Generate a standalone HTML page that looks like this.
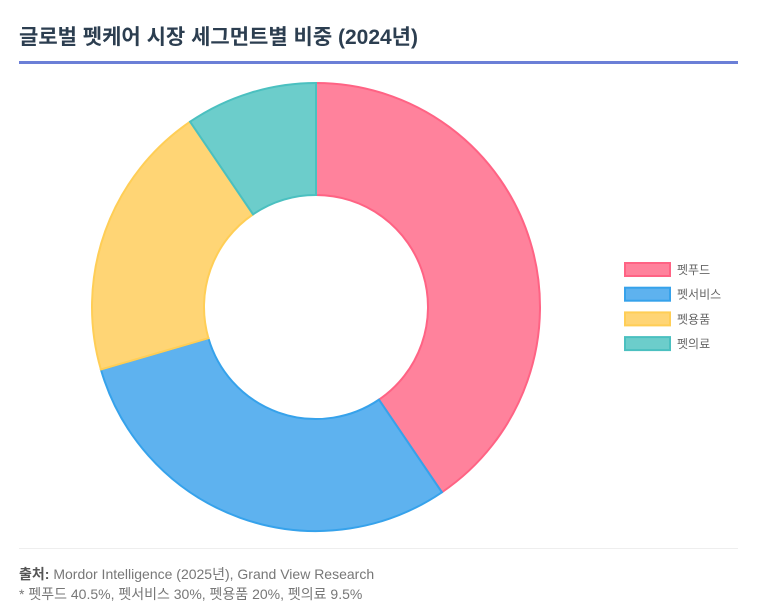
<!DOCTYPE html>
<html><head><meta charset="utf-8"><style>
body{margin:0;width:758px;height:608px;background:#fff;font-family:"Liberation Sans","Noto Sans CJK KR",sans-serif;position:relative;overflow:hidden}
#title{position:absolute;left:19px;top:21px;font-size:21px;font-weight:bold;color:#2c3e50;margin:0;white-space:nowrap}
#rule{position:absolute;left:19px;top:61px;width:719px;height:3px;background:#6b7fd7}
#foot-rule{position:absolute;left:19px;top:548px;width:719px;height:1px;background:#eee}
.ft{position:absolute;left:19px;font-size:14px;color:#777;white-space:nowrap}
svg{position:absolute;left:0;top:0}
</style></head><body>
<h1 id="title">글로벌 펫케어 시장 세그먼트별 비중 (2024년)</h1>
<div id="rule"></div>
<svg id="chart" width="758" height="608"></svg>
<div id="foot-rule"></div>
<div class="ft" style="top:564px"><b style="color:#555">출처:</b> Mordor Intelligence (2025년), Grand View Research</div>
<div class="ft" style="top:584px">* 펫푸드 40.5%, 펫서비스 30%, 펫용품 20%, 펫의료 9.5%</div>
<script>
const labels=["펫푸드","펫서비스","펫용품","펫의료"];
const values=[40.5,30,20,9.5];
const fills=["#ff829c","#5eb2ef","#ffd575","#6ccdcb"];
const strokes=["#ff6384","#36a2eb","#ffce56","#4bc0c0"];
const svg=document.getElementById('chart');
const NS="http://www.w3.org/2000/svg";
const cx=316,cy=307,R=224,r=112;
const total=values.reduce((a,b)=>a+b,0);
function pt(rad,a){return [cx+rad*Math.sin(a),cy-rad*Math.cos(a)];}
let a0=0;
values.forEach((v,i)=>{
  const a1=a0+v/total*2*Math.PI;
  const large=(a1-a0)>Math.PI?1:0;
  const p1=pt(R,a0),p2=pt(R,a1),p3=pt(r,a1),p4=pt(r,a0);
  const p=document.createElementNS(NS,'path');
  p.setAttribute('d',`M${p1[0]},${p1[1]} A${R},${R} 0 ${large} 1 ${p2[0]},${p2[1]} L${p3[0]},${p3[1]} A${r},${r} 0 ${large} 0 ${p4[0]},${p4[1]} Z`);
  p.setAttribute('fill',fills[i]);
  p.setAttribute('stroke',strokes[i]);
  p.setAttribute('stroke-width','2');
  
  
  svg.appendChild(p);
  a0=a1;
});
labels.forEach((l,i)=>{
  const y=263+i*24.7;
  const g=document.createElementNS(NS,'g');
  
  
  const rc=document.createElementNS(NS,'rect');
  rc.setAttribute('x',625);rc.setAttribute('y',y);rc.setAttribute('width',45);rc.setAttribute('height',13);
  rc.setAttribute('fill',fills[i]);rc.setAttribute('stroke',strokes[i]);rc.setAttribute('stroke-width','2');
  
  
  const t=document.createElementNS(NS,'text');
  t.setAttribute('x',677);t.setAttribute('y',y+11);
  t.setAttribute('font-size','12');t.setAttribute('fill','#666');
  t.setAttribute('font-family','"Liberation Sans","Noto Sans CJK KR",sans-serif');
  t.textContent=l;
  
  
  g.appendChild(rc);g.appendChild(t);svg.appendChild(g);
});
</script>
</body></html>
